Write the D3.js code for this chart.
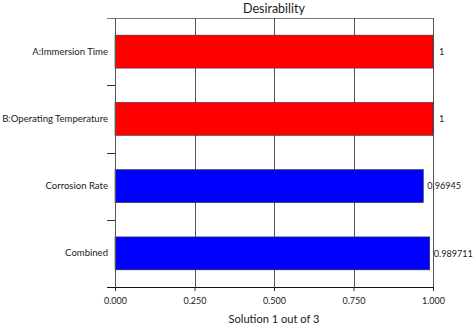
<!DOCTYPE html>
<html><head><meta charset="utf-8">
<script src="https://cdn.jsdelivr.net/npm/d3@7"></script>
<style>body{margin:0;background:#fff}svg{display:block}text{font-family:"Lato","Noto Sans",sans-serif;fill:#1a1a1a}</style>
</head><body>
<script>
const categories = ["A:Immersion Time","B:Operating Temperature","Corrosion Rate","Combined"];
const values = [1, 1, 0.96945, 0.989711];
const valueLabels = ["1","1","0.96945","0.989711"];
const barColors = ["#ff0000","#ff0000","#0000ff","#0000ff"];
const xTicks = [0, 0.25, 0.5, 0.75, 1];
const title = "Desirability";
const xTitle = "Solution 1 out of 3";

const W = 474, H = 326;
const m = {left:115, right:41, top:18, bottom:39};
const svg = d3.select("body").append("svg").attr("width",W).attr("height",H);
const x = d3.scaleLinear().domain([0,1]).range([m.left, W-m.right]);
const y = d3.scaleBand().domain(categories).range([m.top, H-m.bottom]).padding(0);
const g = svg.append("g");

// scale a text's font size so that its width matches a target width
function fit(sel, target){
  const n = sel.node(); const fs = parseFloat(sel.attr("font-size"));
  const w = n.getComputedTextLength();
  if (w>0) sel.attr("font-size", (fs*target/w).toFixed(2));
}

// top frame line
g.append("line").attr("x1",m.left-8).attr("x2",x(1)).attr("y1",m.top+0.5).attr("y2",m.top+0.5)
 .attr("stroke","#777").attr("stroke-width",1);
// vertical gridlines
g.selectAll(".grid").data(xTicks.slice(1)).join("line")
 .attr("x1",d=>Math.round(x(d))+0.5).attr("x2",d=>Math.round(x(d))+0.5)
 .attr("y1",m.top).attr("y2",H-m.bottom)
 .attr("stroke","#555").attr("stroke-width",1);

// bars
const bh = y.bandwidth()*0.49;
g.selectAll(".bar").data(categories).join("rect")
 .attr("x",x(0)).attr("y",(d)=>y(d)+y.bandwidth()/2-bh/2)
 .attr("width",(d,i)=>x(values[i])-x(0)).attr("height",bh)
 .attr("fill",(d,i)=>barColors[i]).attr("stroke","#333").attr("stroke-width",0.6);

// value labels
const vl = g.selectAll(".vl").data(categories).join("text")
 .attr("x",(d,i)=>x(values[i])+(values[i]===1?6:4)).attr("y",d=>y(d)+y.bandwidth()/2)
 .attr("dy","0.35em").attr("font-size",11).text((d,i)=>valueLabels[i]);
fit(vl.filter((d,i)=>i===3), 39);
vl.attr("font-size", vl.filter((d,i)=>i===3).attr("font-size"));

// left axis
const ya = d3.axisLeft(y).tickSize(0).tickPadding(7);
const yg = g.append("g").attr("transform",`translate(${m.left},0)`).call(ya);
yg.select(".domain").attr("stroke","#555").attr("d",`M0.5,${m.top}V${H-m.bottom}`);
yg.selectAll("text").attr("font-size",11);
const bt = yg.selectAll("text").filter(d=>d===categories[1]);
fit(bt, 106);
yg.selectAll("text").attr("font-size", bt.attr("font-size"));
// category separator ticks
const seps = categories.slice(1).map(c=>y(c));
g.selectAll(".sep").data(seps).join("line")
 .attr("x1",m.left-8).attr("x2",m.left).attr("y1",d=>Math.round(d)+0.5).attr("y2",d=>Math.round(d)+0.5)
 .attr("stroke","#333");

// bottom axis
const xa = d3.axisBottom(x).tickValues(xTicks).tickFormat(d3.format(".3f")).tickSize(4).tickPadding(7);
const xg = g.append("g").attr("transform",`translate(0,${H-m.bottom})`).call(xa);
xg.select(".domain").attr("stroke","#111").attr("d",`M${m.left-8},0.5H${x(1)+0.5}`);
xg.selectAll(".tick line").attr("stroke","#333");
xg.selectAll("text").attr("font-size",11);
const t0 = xg.select(".tick text"); fit(t0, 23);
xg.selectAll("text").attr("font-size", t0.attr("font-size"));

const tt = svg.append("text").attr("x",x(0.5)).attr("y",13).attr("text-anchor","middle").attr("font-size",13).text(title);
fit(tt, 62);
const xt = svg.append("text").attr("x",x(0.5)).attr("y",323).attr("text-anchor","middle").attr("font-size",12.5).text(xTitle);
fit(xt, 91);
</script>
</body></html>
